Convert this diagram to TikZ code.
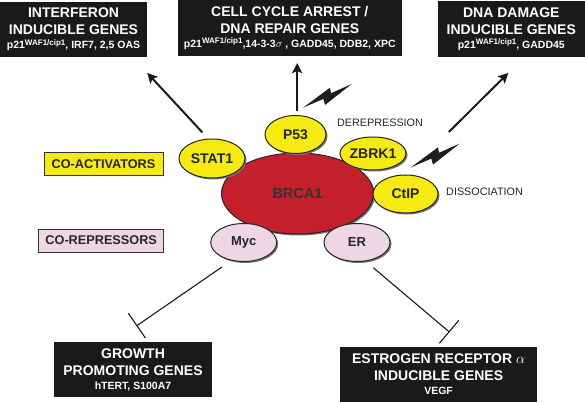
\documentclass[tikz,border=0pt]{standalone}
\usepackage{fontspec}
\setmainfont{Liberation Sans}
\usetikzlibrary{shapes.geometric,arrows.meta,positioning,shadows}
\definecolor{genebg}{RGB}{26,26,26}
\definecolor{coact}{RGB}{246,234,20}
\definecolor{corep}{RGB}{238,214,228}
\definecolor{brcared}{RGB}{196,32,44}
\newcommand{\wafcip}{\raisebox{3.5pt}{\fontsize{8}{8}\selectfont WAF1/cip1}}
\newcommand{\drawbolt}[1]{\fill[black!88] (#1) -- ++(27,-20) -- ++(1,5.5) -- ++(20.7,-9.2) -- ++(-26.7,21) -- ++(-1.7,-6) -- cycle;}

\begin{document}
\begin{tikzpicture}[
    x=1pt, y=-1pt,
    node distance=10pt and 10pt,
    genebox/.style={rectangle, fill=genebg, text=white, inner sep=0pt, outer sep=0pt, align=center, font=\fontsize{14}{17}\selectfont\bfseries, execute at begin node=\rule{0pt}{21pt}},
    protein/.style={ellipse, draw=black!85, line width=1pt, inner sep=0pt, outer sep=0pt, font=\fontsize{14}{15}\selectfont\bfseries, text=black!85, drop shadow={shadow xshift=1.5pt, shadow yshift=-1.5pt, fill=black!55, opacity=1}},
    coactivator/.style={protein, fill=coact},
    corepressor/.style={protein, fill=corep, font=\fontsize{13}{14}\selectfont\bfseries},
    tagbox/.style={rectangle, draw=black!80, line width=1pt, outer sep=0pt, inner sep=0pt, minimum height=23pt, font=\fontsize{12.7}{14}\selectfont\bfseries, text=black!85},
    note/.style={font=\fontsize{10.8}{12}\selectfont, text=black!85, inner sep=0pt},
    arrow/.style={-{Stealth[length=10pt,width=10pt,inset=2pt]}, line width=2pt, black!90},
    block/.style={-{Bar[width=30pt]}, line width=1.1pt, black!90}
]
\useasboundingbox (0,0) rectangle (585,403);

% Target genes
\node[genebox, minimum width=147pt, minimum height=55pt] (interferon) at (73.5,29.5) {INTERFERON\\INDUCIBLE GENES\\[-3pt]{\fontsize{10.5}{12}\selectfont p21\wafcip, IRF7, 2,5 OAS}};
\node[genebox, minimum width=223.5pt, minimum height=55.5pt] (cellcycle) at (289.8,27.8) {CELL CYCLE ARREST /\\DNA REPAIR GENES\\[-3pt]{\fontsize{10.5}{12}\selectfont p21\wafcip,14-3-3$\sigma$ , GADD45, DDB2, XPC}};
\node[genebox, minimum width=147.5pt, minimum height=56pt] (dnadamage) at (511.3,29) {DNA DAMAGE\\INDUCIBLE GENES\\[-3pt]{\fontsize{10.5}{12}\selectfont p21\wafcip, GADD45}};
\node[genebox, minimum width=158pt, minimum height=55.5pt] (growth) at (133,369.5) {GROWTH\\PROMOTING GENES\\[-3pt]{\fontsize{10.5}{12}\selectfont hTERT, S100A7}};
\node[genebox, minimum width=197pt, minimum height=55pt] (estrogen) at (438.6,374.5) {ESTROGEN RECEPTOR $\alpha$\\INDUCIBLE GENES\\[-3pt]{\fontsize{10.5}{12}\selectfont VEGF}};

% Complex
\node[ellipse, draw=black!85, line width=1pt, fill=brcared, minimum width=152pt, minimum height=81pt, inner sep=0pt, outer sep=0pt, font=\fontsize{14.5}{15}\selectfont\bfseries, text=black!80, drop shadow={shadow xshift=1.5pt, shadow yshift=-1.5pt, fill=black!55, opacity=1}] (brca1) at (297.5,193.5) {BRCA1};
\node[coactivator, minimum width=66pt, minimum height=39pt] (stat1) at (212,158.5) {STAT1};
\node[coactivator, minimum width=61pt, minimum height=38pt] (p53) at (295.5,134.5) {P53};
\node[coactivator, minimum width=65pt, minimum height=33pt] (zbrk1) at (373,153.5) {ZBRK1};
\node[coactivator, minimum width=65pt, minimum height=38pt] (ctip) at (405.5,194) {CtIP};
\node[corepressor, minimum width=66pt, minimum height=38pt] (myc) at (243.7,242.5) {Myc};
\node[corepressor, minimum width=66pt, minimum height=38pt] (er) at (357,242.5) {ER};

% Labels
\node[tagbox, fill=coact, minimum width=119pt, left=16pt of stat1, yshift=-6pt] (coactivators) {CO-ACTIVATORS};
\node[tagbox, fill=corep, minimum width=125pt, left=47pt of myc, yshift=2pt] (corepressors) {CO-REPRESSORS};
\node[note, above=10pt of zbrk1, xshift=7pt] (derepression) {DEREPRESSION};
\node[note, right=8pt of ctip, yshift=2pt] (dissociation) {DISSOCIATION};

% Arrows
\draw[arrow, shorten <=9pt, shorten >=21.7pt] (stat1.100) -- (interferon.-25);
\draw[arrow, shorten <=5pt, shorten >=7.5pt] (p53.85) -- (p53.85 |- cellcycle.south);
\draw[arrow, shorten <=61pt, shorten >=22.6pt] (ctip.north) -- (dnadamage.-65.6);
\draw[block, shorten <=12pt, shorten >=27.8pt] (myc.236) -- (growth.125.7);
\draw[block, shorten <=10.5pt, shorten >=23pt] (er.-66) -- (estrogen.44.6);

% Bolts
\drawbolt{303,107.7}
\drawbolt{411,167.3}

\end{tikzpicture}
\end{document}
